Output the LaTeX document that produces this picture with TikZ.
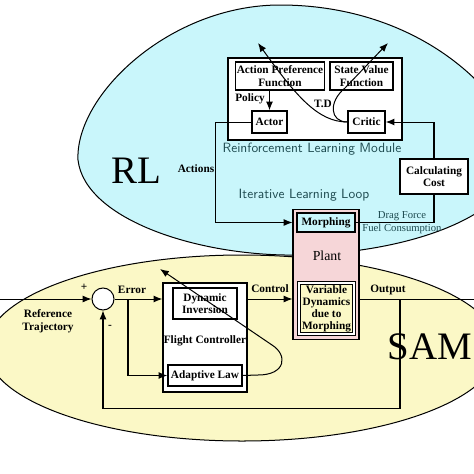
\documentclass[tikz,border=0pt]{standalone}
\usepackage{fontspec}
\setmainfont{Liberation Serif}
\usepackage{tikz}
\usetikzlibrary{arrows.meta,positioning,calc}

\definecolor{rlblue}{HTML}{C9F6FB}
\definecolor{samyellow}{HTML}{FBF8C6}
\definecolor{plantpink}{HTML}{F6D6D8}
\definecolor{labelteal}{HTML}{1E4B50}
\newcommand{\pix}{0.028cm}

\begin{document}
\begin{tikzpicture}[x=0.028cm, y=-0.028cm, line width=0.8pt,
            every node/.style={font=\fontsize{9}{10}\selectfont\bfseries, inner sep=1pt},
            blockbox/.style={draw, fill=white, align=center, line width=1pt},
            flow/.style={-{Latex[length=7pt,width=5.5pt]}, line width=0.8pt},
            thinlabel/.style={font=\sffamily\fontsize{10.7}{12}\selectfont, text=labelteal}]
        \useasboundingbox (0,0) rectangle (474,474);
        % the two regions
        \begin{scope}
            \clip (0,0) rectangle (474,474);
            \filldraw[fill=rlblue] (78,160) .. controls (75,95) and (170,5) .. (280,5)
                .. controls (390,5) and (480,60) .. (520,140)
                .. controls (530,210) and (420,252) .. (300,255)
                .. controls (200,257) and (85,220) .. (78,160) -- cycle;
            \filldraw[fill=samyellow] (242,348) ellipse [x radius=7.168cm, y radius=2.604cm];
        \end{scope}
        \node[font=\fontsize{31}{36}\selectfont] (rl) at (136,171) {RL};
        \node[font=\fontsize{31}{36}\selectfont, anchor=east] (sam) at (474,347) {SAM};

        % reinforcement learning module
        \node[blockbox, minimum width=174*\pix, minimum height=82*\pix] (rlmod) at (315,99) {};
        \node[blockbox, minimum width=88*\pix, minimum height=28*\pix] (apf) at (280,76) {Action Preference\\Function};
        \node[blockbox, minimum width=63*\pix, minimum height=28*\pix] (svf) at (361.5,76) {State Value\\Function};
        \node[blockbox, minimum width=35*\pix, minimum height=22*\pix] (actor) at (269.5,122) {Actor};
        \node[blockbox, minimum width=37*\pix, minimum height=22*\pix] (critic) at (366.5,122) {Critic};
        \node[blockbox, minimum width=68*\pix, minimum height=35*\pix] (cost) at (434,176.5) {Calculating\\Cost};
        \node[thinlabel] (rlmodlabel) at (312,149) {Reinforcement Learning Module};
        \node[thinlabel] (looplabel) at (304,195) {Iterative Learning Loop};
        \node (policy) at (250,99) {Policy};
        \node (td) at (323,104) {T.D};
        \node (actions) at (196,169) {Actions};

        % plant
        \node[draw, fill=plantpink, minimum width=66*\pix, minimum height=130*\pix] (plant) at (326,274) {};
        \node[blockbox, fill=rlblue, minimum width=58*\pix, minimum height=19*\pix] (morph) at (326,222.5) {Morphing};
        \node[blockbox, fill=samyellow, double, double distance=1pt, minimum width=55*\pix, minimum height=51*\pix,
              font=\fontsize{9}{9.6}\selectfont\bfseries, inner sep=0.5pt] (vardyn) at (326.5,308.5) {Variable\\Dynamics\\due to\\Morphing};
        \node[font=\fontsize{11}{13}\selectfont] (plantlabel) at (327,256) {Plant};
        \node[font=\fontsize{8.5}{10}\selectfont, text=labelteal] (drag) at (402,216) {Drag Force};
        \node[font=\fontsize{8.5}{10}\selectfont, text=labelteal] (fuel) at (402,229) {Fuel Consumption};

        % flight control loop
        \node[draw, circle, fill=white, minimum size=22*\pix, inner sep=0pt] (sum) at (103,299) {};
        \node[blockbox, minimum width=84*\pix, minimum height=109*\pix] (fc) at (205,337.5) {};
        \node (fclabel) at (205,341) {Flight Controller};
        \node[blockbox, minimum width=64*\pix, minimum height=31*\pix] (dyninv) at (205,303.5) {Dynamic\\Inversion};
        \node[blockbox, minimum width=74*\pix, minimum height=21*\pix] (adapt) at (205,375.5) {Adaptive Law};
        \node[align=center] (reftraj) at (48,321) {Reference\\Trajectory};
        \node (plus) at (84,287) {+};
        \node (minus) at (110,327) {-};
        \node (error) at (132,290) {Error};
        \node (control) at (270,289) {Control};
        \node (output) at (388,290) {Output};

        \coordinate (refin) at (0,299);
        \coordinate (errsplit) at (128,299);
        \coordinate (outsplit) at (400,299);
        \coordinate (outend) at (474,299);
        \coordinate (fbcorner) at (400,408);
        \coordinate (tdtipA) at (258,43);
        \coordinate (tdtipB) at (388,43);
        \coordinate (adapttip) at (160,269);

        % connectors
        \draw[flow] (actor.north |- apf.south) -- (actor.north);
        \draw[flow] (cost.north) |- (critic.east);
        \draw[flow] (actor.west) -- ++(-36,0) |- (plant.west |- morph);
        \draw (morph.east) -| (cost.south);
        \draw[flow] (critic.west) .. controls (318,122) and (296,96) .. (tdtipA);
        \draw[flow] (critic.west) .. controls (330,122) and (328,102) .. (345,88) -- (tdtipB);
        \draw[flow] (refin) -- (sum.west);
        \draw[flow] (sum.east) -- (fc.west |- sum);
        \draw[flow] (errsplit) |- (adapt.west);
        \draw[flow] (fc.east |- sum) -- (plant.west |- sum);
        \draw (plant.east |- sum) -- (outend);
        \draw[flow] (outsplit) -- (fbcorner) -| (sum.south);
        \draw[flow] (adapt.east) -- (258,375) .. controls (286,375) and (288,355) .. (272,345) -- (adapttip);
\end{tikzpicture}
\end{document}
